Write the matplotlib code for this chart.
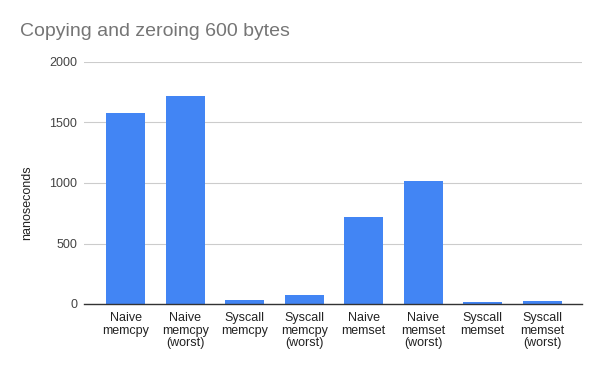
import matplotlib
matplotlib.use("Agg")
import matplotlib.pyplot as plt

categories = ["Naive\nmemcpy", "Naive\nmemcpy\n(worst)", "Syscall\nmemcpy", "Syscall\nmemcpy\n(worst)",
              "Naive\nmemset", "Naive\nmemset\n(worst)", "Syscall\nmemset", "Syscall\nmemset\n(worst)"]
values = [1578, 1718, 33, 75, 720, 1015, 17, 25]
yticks = [0, 500, 1000, 1500, 2000]

plt.rcParams['font.family'] = ['Liberation Sans', 'DejaVu Sans']
fig = plt.figure(figsize=(6, 3.71), dpi=100)
ax = fig.add_axes([84/600, 1-304/371, 498/600, 242/371])
x = range(len(categories))
ax.bar(x, values, width=0.655, color="#4285f4", zorder=3)
ax.set_xlim(-0.70, len(categories) - 1 + 0.67)
ax.set_ylim(0, 2000)
ax.set_yticks(yticks)
ax.set_yticklabels([str(t) for t in yticks], fontsize=9, color="#444444")
ax.set_xticks(list(x))
ax.set_xticklabels(categories, fontsize=9, color="#222222", linespacing=1.05)
ax.tick_params(axis='both', length=0)
ax.tick_params(axis='y', pad=5)
ax.tick_params(axis='x', pad=6)
ax.grid(axis='y', color="#cccccc", linewidth=0.8, zorder=0)
for s in ['top', 'right', 'left']:
    ax.spines[s].set_visible(False)
ax.spines['bottom'].set_color("#333333")
ax.spines['bottom'].set_linewidth(1.0)
ax.spines['bottom'].set_zorder(4)
ax.set_ylabel("nanoseconds", fontsize=9, color="#222222")
ax.yaxis.set_label_coords(-(84 - 33) / 498, (304 - 203) / 242)
fig.text(20/600, 1-32/371, "Copying and zeroing 600 bytes", fontsize=14, color="#757575", va='center')
fig.savefig("out.png", dpi=100)
